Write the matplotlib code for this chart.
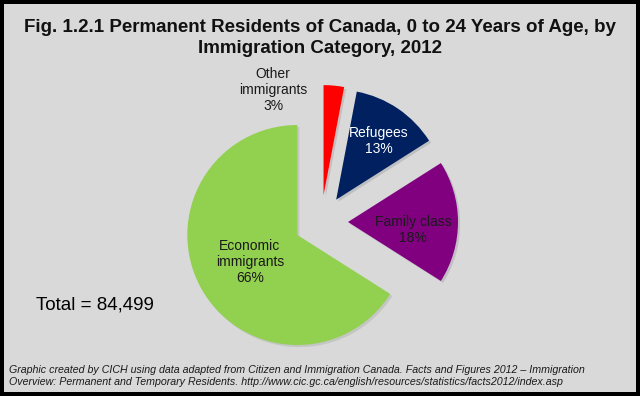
import matplotlib.pyplot as plt
import matplotlib.patheffects as pe
from matplotlib.patches import Rectangle

# data
categories = ["Other\nimmigrants", "Refugees", "Family class", "Economic\nimmigrants"]
shares = [3, 13, 18, 66]
colors = ["#ff0000", "#002060", "#800080", "#92d050"]
label_colors = ["#1a1a1a", "white", "#1a1a1a", "#1a1a1a"]
total = 84499

title = "Fig. 1.2.1 Permanent Residents of Canada, 0 to 24 Years of Age, by\nImmigration Category, 2012"
source = ("Graphic created by CICH using data adapted from Citizen and Immigration Canada. "
          "Facts and Figures 2012 \u2013 Immigration\n"
          "Overview: Permanent and Temporary Residents. "
          "http://www.cic.gc.ca/english/resources/statistics/facts2012/index.asp")

plt.rcParams["font.family"] = ["Liberation Sans", "DejaVu Sans"]

W, H = 640, 396
fig = plt.figure(figsize=(W / 100, H / 100), dpi=100)
fig.patch.set_facecolor("black")

ax = fig.add_axes([0, 0, 1, 1])
ax.patch.set_alpha(0)

# pixel coordinates, y up
radius = 110
pie_center = (321, 174)
wedges, _ = ax.pie(
    shares,
    colors=colors,
    startangle=90,
    counterclock=False,
    radius=radius,
    center=pie_center,
    explode=[27] * len(shares),
    wedgeprops=dict(linewidth=0, zorder=2),
)
for w in wedges:
    w.set_path_effects([pe.SimplePatchShadow(offset=(1.5, -1.5), alpha=0.12), pe.Normal()])

# grey panel inside the black frame
ax.add_patch(Rectangle((4, 4), W - 8, H - 8, facecolor="#d9d9d9", edgecolor="none", zorder=0))

label_pos = [(273, 306), (379, 255), (413, 166), (250, 134)]
for name, pct, (x, y), c in zip(categories, shares, label_pos, label_colors):
    ax.text(x, y, f"{name}\n{pct}%", ha="center", va="center", fontsize=10,
            color=c, linespacing=1.15, zorder=3)

ax.set_xlim(0, W)
ax.set_ylim(0, H)
ax.set_aspect("equal")
ax.axis("off")

fig.text(320 / W, 1 - 38 / H, title, ha="center", va="center", fontsize=13.5,
         fontweight="bold", color="#111111", linespacing=1.38)
fig.text(36 / W, 1 - 305 / H, f"Total = {total:,}", ha="left", va="center",
         fontsize=13.5, color="black")
fig.text(9 / W, 1 - 376 / H, source, ha="left", va="center", fontsize=7.7,
         style="italic", color="#1a1a1a", linespacing=1.2)

fig.savefig("out.png", dpi=100, facecolor=fig.get_facecolor())
